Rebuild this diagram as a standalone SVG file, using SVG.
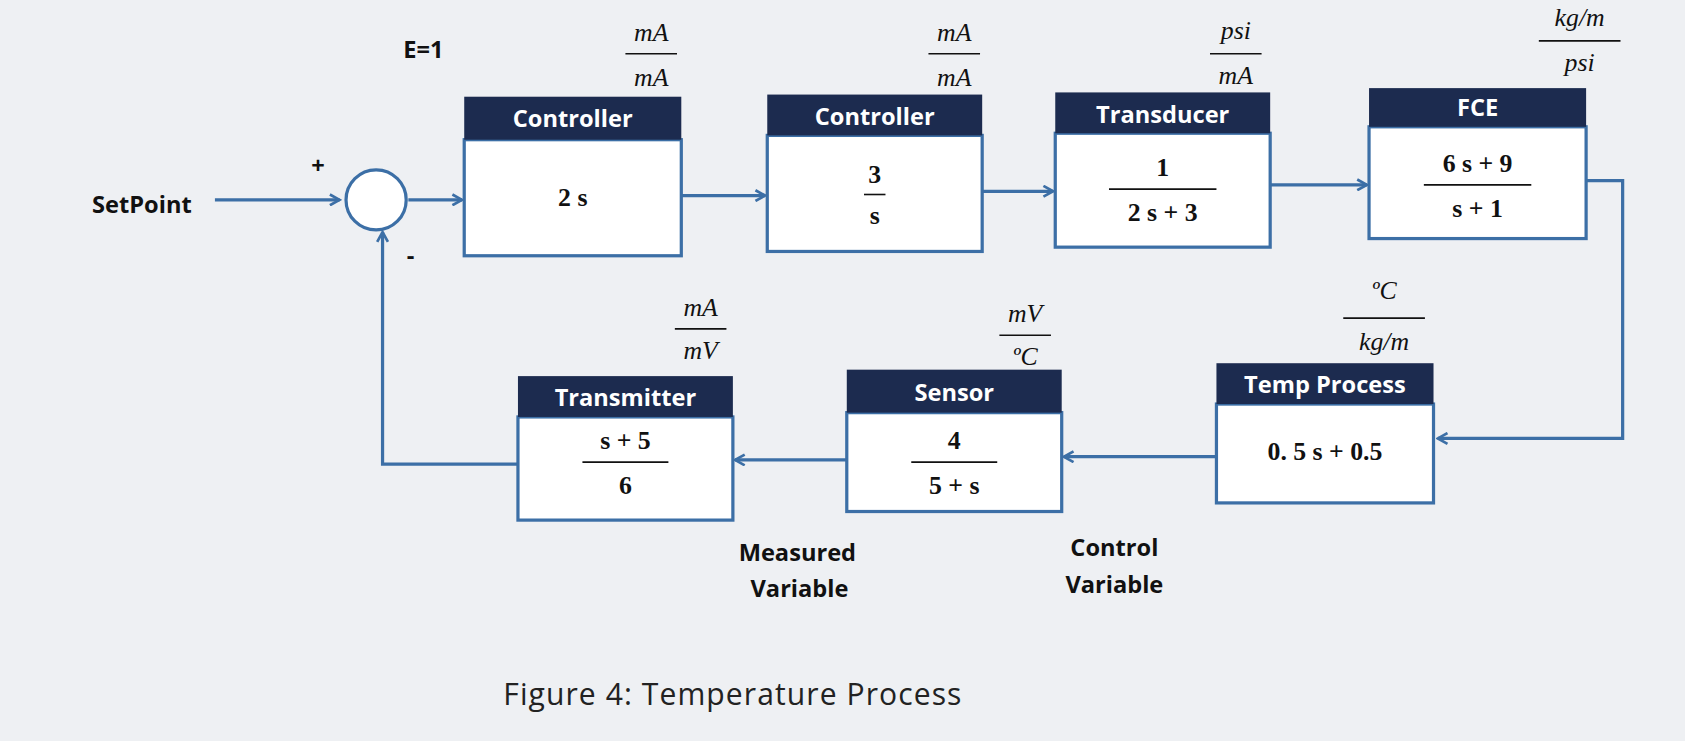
<svg xmlns="http://www.w3.org/2000/svg" width="1685" height="741" viewBox="0 0 1685 741">
<defs>
<marker id="ah" markerWidth="12" markerHeight="12" refX="10" refY="6" orient="auto" markerUnits="userSpaceOnUse">
<path d="M1,1 L10,6 L1,11" fill="none" stroke="#3c6fa6" stroke-width="2.5"/>
</marker>
<style>
.hd{fill:#1c2b4f}
.bd{fill:#ffffff;stroke:#3c6fa6;stroke-width:3}
.ht{fill:#fff;font-family:"Open Sans","Liberation Sans",sans-serif;font-weight:bold;font-size:22px;text-anchor:middle}
.bt{fill:#111;font-family:"Liberation Serif",serif;font-weight:bold;font-size:24px;text-anchor:middle}
.fr{fill:#111;font-family:"Liberation Serif",serif;font-style:italic;font-size:24px;text-anchor:middle}
.lb{fill:#111;font-family:"Open Sans","Liberation Sans",sans-serif;font-weight:bold;font-size:22px;text-anchor:middle}
.ln{fill:none;stroke:#3c6fa6;stroke-width:3}
.fl{stroke:#111;stroke-width:1.5}
</style>
</defs>
<rect width="1685" height="741" fill="#eef0f3"/>
<g transform="scale(1.0746)">
<g id="connectors">
<line class="ln" x1="200" y1="186" x2="316" y2="186" marker-end="url(#ah)"/>
<line class="ln" x1="380" y1="186" x2="430" y2="186" marker-end="url(#ah)"/>
<line class="ln" x1="634" y1="182" x2="712" y2="182" marker-end="url(#ah)"/>
<line class="ln" x1="914" y1="178" x2="980" y2="178" marker-end="url(#ah)"/>
<line class="ln" x1="1182" y1="172" x2="1272" y2="172" marker-end="url(#ah)"/>
<polyline class="ln" points="1476,168 1510,168 1510,408 1338,408" marker-end="url(#ah)"/>
<line class="ln" x1="1132" y1="425" x2="990" y2="425" marker-end="url(#ah)"/>
<line class="ln" x1="788" y1="428" x2="684" y2="428" marker-end="url(#ah)"/>
<polyline class="ln" points="482,432 356,432 356,216" marker-end="url(#ah)"/>
</g>
<g id="sum"><circle cx="350" cy="186" r="28" class="bd"/></g>
<g id="setpoint"><text x="132" y="198" class="lb">SetPoint</text></g>
<text x="296" y="162" class="lb" font-size="18">+</text>
<text x="382" y="246" class="lb" font-size="20">-</text>
<text x="394" y="54" class="lb">E=1</text>
<g id="controller1">
<rect x="432" y="130" width="202" height="108" class="bd"/>
<rect x="432" y="90" width="202" height="40" class="hd"/>
<text x="533" y="118" class="ht">Controller</text>
<text x="533" y="192" class="bt">2 s</text>
<text x="606" y="38" class="fr">mA</text><line x1="582" y1="50" x2="630" y2="50" class="fl"/><text x="606" y="80" class="fr">mA</text>
</g>
<g id="controller2">
<rect x="714" y="126" width="200" height="108" class="bd"/>
<rect x="714" y="88" width="200" height="38" class="hd"/>
<text x="814" y="116" class="ht">Controller</text>
<text x="814" y="170" class="bt">3</text><line x1="804" y1="181" x2="824" y2="181" class="fl"/><text x="814" y="208" class="bt">s</text>
<text x="888" y="38" class="fr">mA</text><line x1="864" y1="50" x2="912" y2="50" class="fl"/><text x="888" y="80" class="fr">mA</text>
</g>
<g id="transducer">
<rect x="982" y="124" width="200" height="106" class="bd"/>
<rect x="982" y="86" width="200" height="38" class="hd"/>
<text x="1082" y="114" class="ht">Transducer</text>
<text x="1082" y="164" class="bt">1</text><line x1="1032" y1="176" x2="1132" y2="176" class="fl"/><text x="1082" y="206" class="bt">2 s + 3</text>
<text x="1150" y="36" class="fr">psi</text><line x1="1126" y1="50" x2="1174" y2="50" class="fl"/><text x="1150" y="78" class="fr">mA</text>
</g>
<g id="fce">
<rect x="1274" y="118" width="202" height="104" class="bd"/>
<rect x="1274" y="82" width="202" height="36" class="hd"/>
<text x="1375" y="108" class="ht">FCE</text>
<text x="1375" y="160" class="bt">6 s + 9</text><line x1="1325" y1="172" x2="1425" y2="172" class="fl"/><text x="1375" y="202" class="bt">s + 1</text>
<text x="1470" y="24" class="fr">kg/m</text><line x1="1432" y1="38" x2="1508" y2="38" class="fl"/><text x="1470" y="66" class="fr">psi</text>
</g>
<g id="tempprocess">
<rect x="1132" y="376" width="202" height="92" class="bd"/>
<rect x="1132" y="338" width="202" height="38" class="hd"/>
<text x="1233" y="366" class="ht">Temp Process</text>
<text x="1233" y="428" class="bt">0. 5 s + 0.5</text>
<text x="1288" y="278" class="fr">ºC</text><line x1="1250" y1="296" x2="1326" y2="296" class="fl"/><text x="1288" y="326" class="fr">kg/m</text>
</g>
<g id="sensor">
<rect x="788" y="384" width="200" height="92" class="bd"/>
<rect x="788" y="344" width="200" height="40" class="hd"/>
<text x="888" y="373" class="ht">Sensor</text>
<text x="888" y="418" class="bt">4</text><line x1="848" y1="430" x2="928" y2="430" class="fl"/><text x="888" y="460" class="bt">5 + s</text>
<text x="954" y="300" class="fr">mV</text><line x1="930" y1="312" x2="978" y2="312" class="fl"/><text x="954" y="340" class="fr">ºC</text>
</g>
<g id="transmitter">
<rect x="482" y="388" width="200" height="96" class="bd"/>
<rect x="482" y="350" width="200" height="38" class="hd"/>
<text x="582" y="378" class="ht">Transmitter</text>
<text x="582" y="418" class="bt">s + 5</text><line x1="542" y1="430" x2="622" y2="430" class="fl"/><text x="582" y="460" class="bt">6</text>
<text x="652" y="294" class="fr">mA</text><line x1="628" y1="306" x2="676" y2="306" class="fl"/><text x="652" y="334" class="fr">mV</text>
</g>
<text x="742" y="522" class="lb">Measured</text>
<text x="744" y="556" class="lb">Variable</text>
<text x="1037" y="517" class="lb">Control</text>
<text x="1037" y="552" class="lb">Variable</text>
<text x="682" y="656" fill="#222" font-family="Open Sans,Liberation Sans,sans-serif" font-size="28" text-anchor="middle" letter-spacing="1">Figure 4: Temperature Process</text>
</g>
</svg>
